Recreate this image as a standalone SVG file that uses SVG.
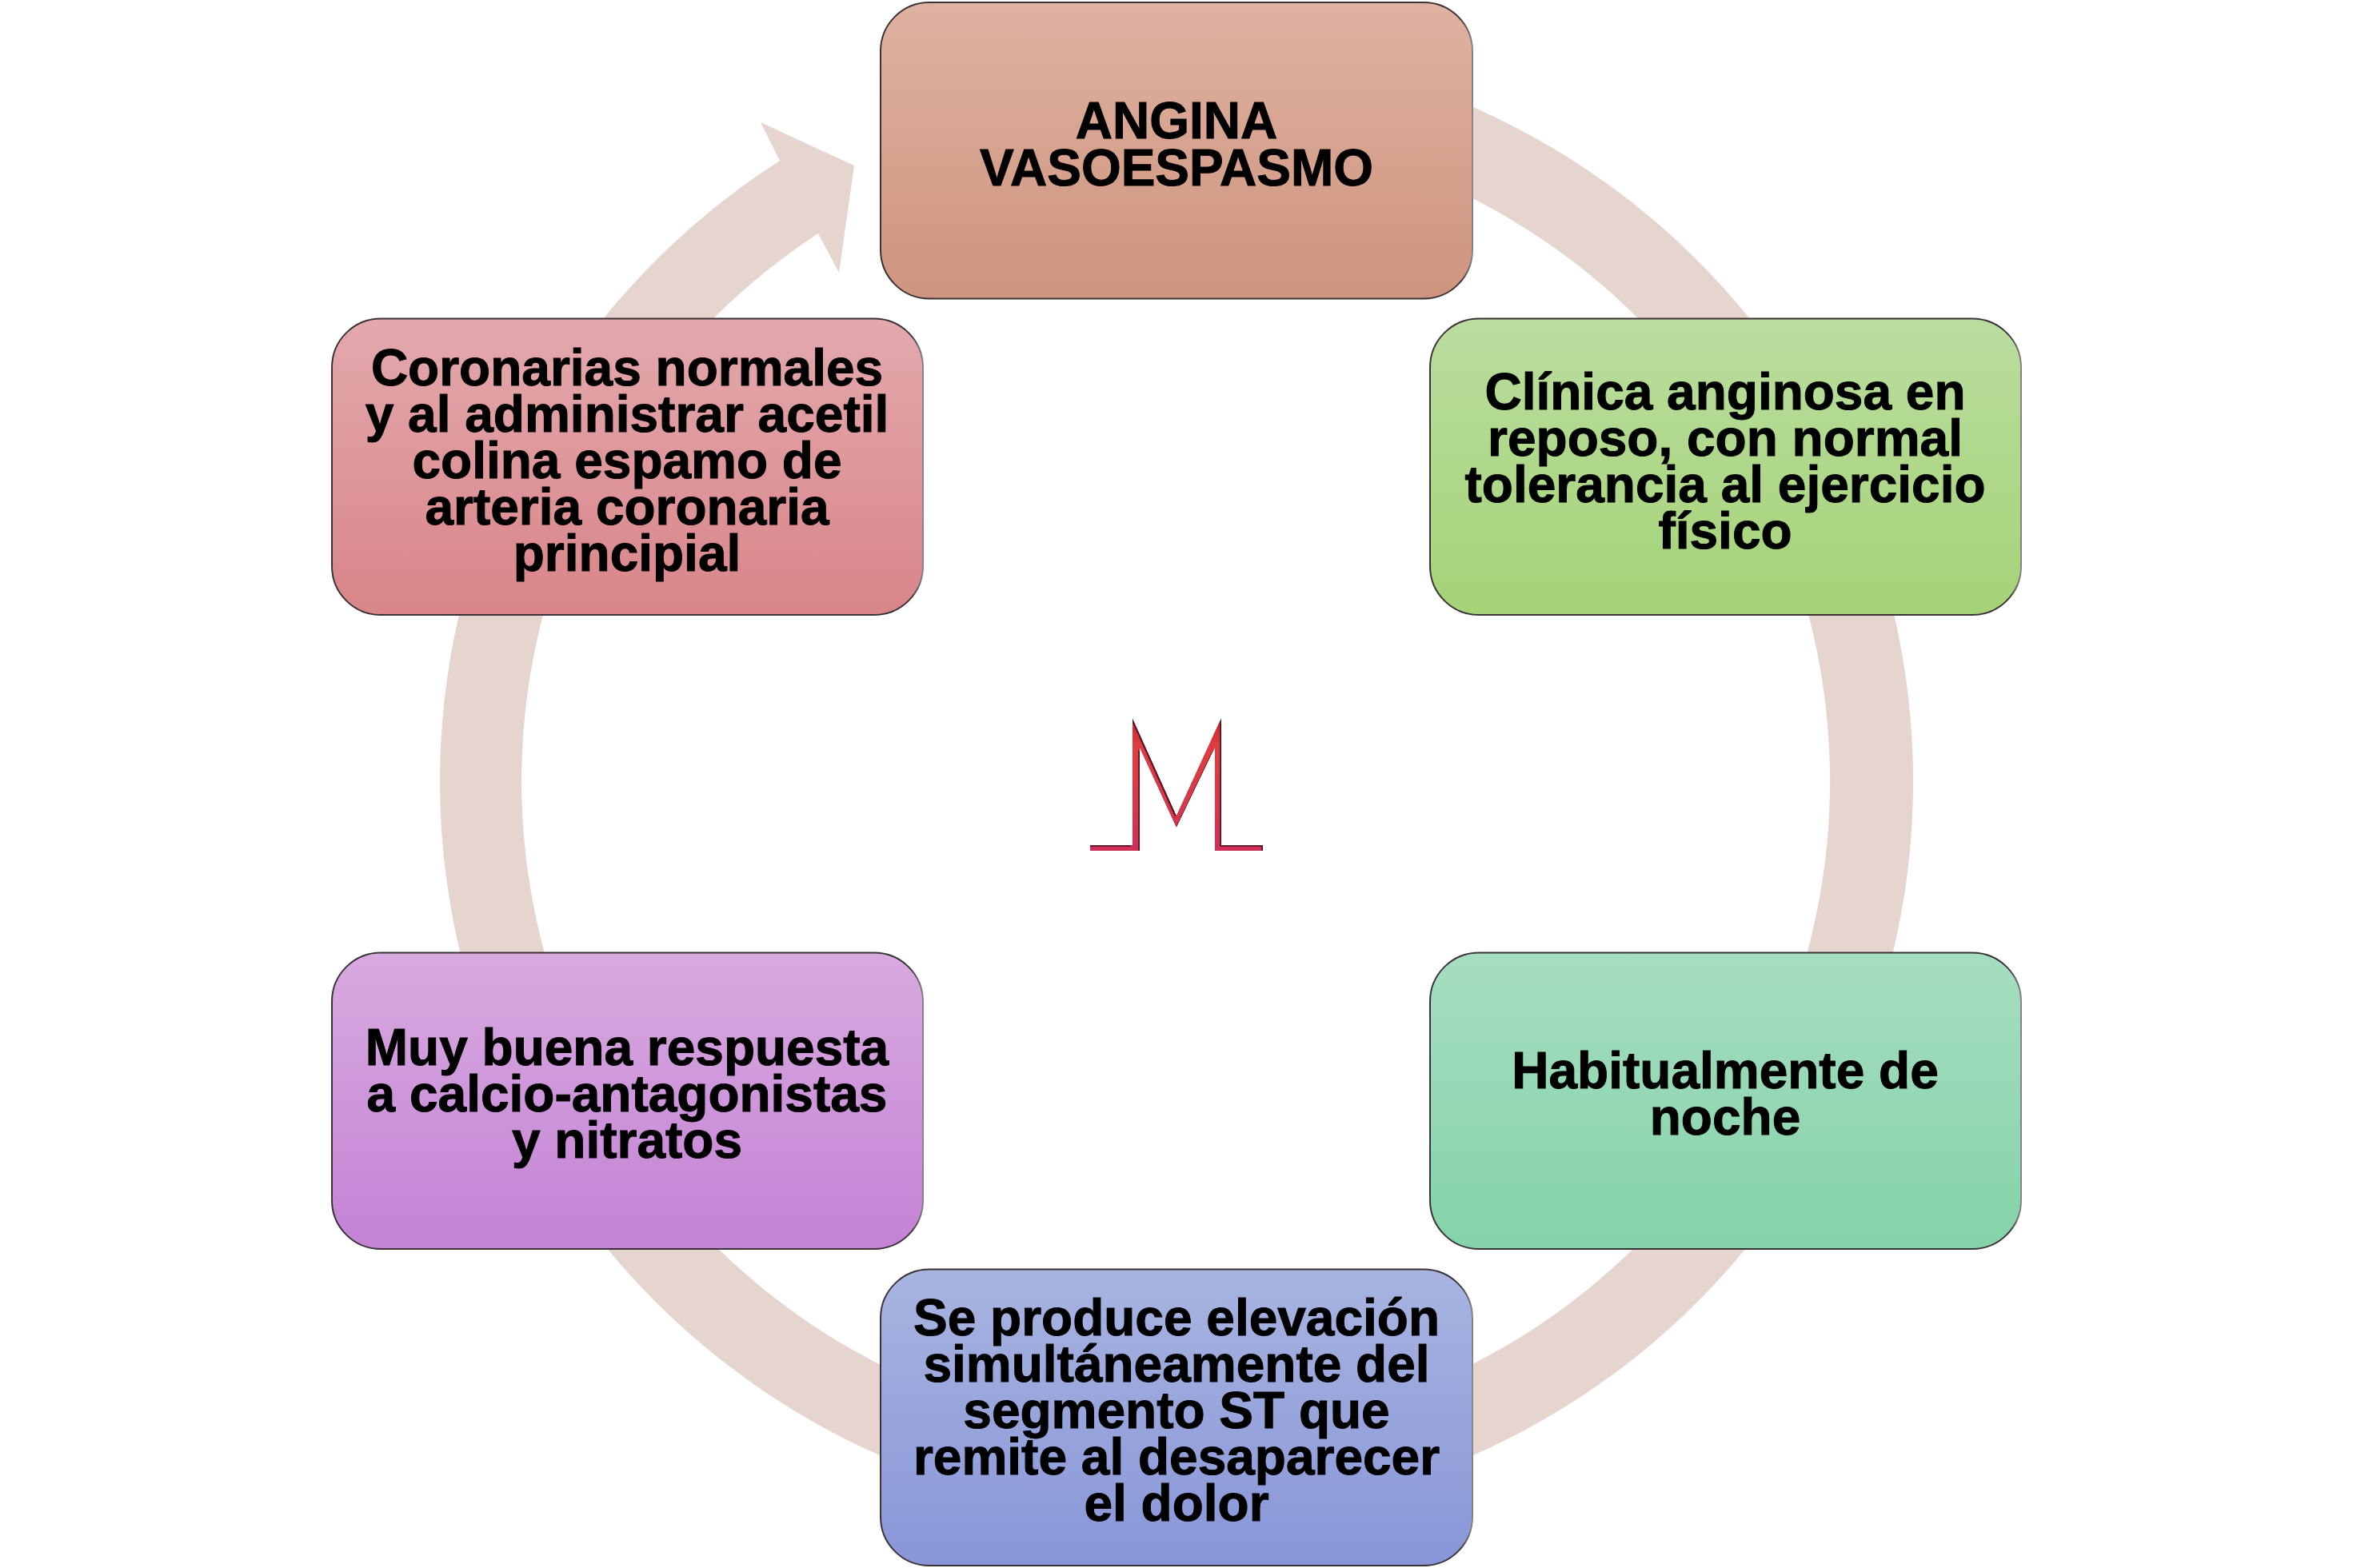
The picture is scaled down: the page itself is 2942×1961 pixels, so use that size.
<svg xmlns="http://www.w3.org/2000/svg" width="2942" height="1961" viewBox="0 0 2942 1961">
<style>
.box{stroke:url(#edge);stroke-width:2}
.t{font-family:"Liberation Sans",Arial,sans-serif;font-weight:700;font-size:64px;fill:#000;stroke:#000;stroke-width:1;text-anchor:middle}
</style>
<defs>
<linearGradient id="edge" x1="0" y1="0" x2="1" y2="0"><stop offset="0" stop-color="#3a3236"/><stop offset=".98" stop-color="#3a3236"/><stop offset="1" stop-color="#8a8486"/></linearGradient>
<linearGradient id="g1" x1="0" y1="0" x2="0" y2="1"><stop offset="0" stop-color="#dfb2a1"/><stop offset="1" stop-color="#ce947e"/></linearGradient>
<linearGradient id="g2" x1="0" y1="0" x2="0" y2="1"><stop offset="0" stop-color="#badd9f"/><stop offset="1" stop-color="#a5d377"/></linearGradient>
<linearGradient id="g3" x1="0" y1="0" x2="0" y2="1"><stop offset="0" stop-color="#a6ddc1"/><stop offset="1" stop-color="#84d3a8"/></linearGradient>
<linearGradient id="g4" x1="0" y1="0" x2="0" y2="1"><stop offset="0" stop-color="#a8b4e0"/><stop offset="1" stop-color="#8896d8"/></linearGradient>
<linearGradient id="g5" x1="0" y1="0" x2="0" y2="1"><stop offset="0" stop-color="#d8aadf"/><stop offset="1" stop-color="#c482d6"/></linearGradient>
<linearGradient id="g6" x1="0" y1="0" x2="0" y2="1"><stop offset="0" stop-color="#e3a9ad"/><stop offset="1" stop-color="#d98589"/></linearGradient>
<linearGradient id="gm" gradientUnits="userSpaceOnUse" x1="0" y1="898" x2="0" y2="1064"><stop offset="0" stop-color="#c6282c"/><stop offset=".2" stop-color="#dd3d3f"/><stop offset=".6" stop-color="#d63a48"/><stop offset="1" stop-color="#cf2d58"/></linearGradient>
<path id="mshape" d="M1363 1057H1416V898L1471 1020L1527 898V1057H1579V1064H1519V935L1471 1035L1425 935V1064H1363Z"/>
<clipPath id="mclip"><use href="#mshape"/></clipPath>
<filter id="soft" x="-5%" y="-5%" width="110%" height="110%"><feGaussianBlur stdDeviation=".7"/></filter>
</defs>
<rect width="2942" height="1961" fill="#fff"/>
<g id="connectors">
<path fill="#e6d5cf" d="M975 201L951 153L1068 207L1049 341L1023 292A818 818 0 1 0 1471 159V56A921 921 0 1 1 975 201Z"/>
</g>
<g id="logo">
<g clip-path="url(#mclip)"><use href="#mshape" fill="#5a1426"/><use href="#mshape" fill="url(#gm)" transform="translate(-1.8 1.8)" filter="url(#soft)"/></g>
</g>
<g id="node-1"><rect class="box" x="1101" y="3" width="740" height="370.5" rx="61" fill="url(#g1)"/>
<text class="t" x="1471" y="173">ANGINA</text><text class="t" x="1471" y="232">VASOESPASMO</text></g>
<g id="node-2"><rect class="box" x="1788" y="398.5" width="739" height="370.5" rx="61" fill="url(#g2)"/>
<text class="t" x="2157" y="512">Clínica anginosa en</text><text class="t" x="2157" y="570">reposo, con normal</text><text class="t" x="2157" y="628">tolerancia al ejercicio</text><text class="t" x="2157" y="686">físico</text></g>
<g id="node-3"><rect class="box" x="1788" y="1191.5" width="739" height="370.5" rx="61" fill="url(#g3)"/>
<text class="t" x="2157" y="1361">Habitualmente de</text><text class="t" x="2157" y="1419">noche</text></g>
<g id="node-4"><rect class="box" x="1101" y="1587.5" width="740" height="370.5" rx="61" fill="url(#g4)"/>
<text class="t" x="1471" y="1670">Se produce elevación</text><text class="t" x="1471" y="1728">simultáneamente del</text><text class="t" x="1471" y="1786">segmento ST que</text><text class="t" x="1471" y="1844">remite al desaparecer</text><text class="t" x="1471" y="1902">el dolor</text></g>
<g id="node-5"><rect class="box" x="415" y="1191.5" width="739" height="370.5" rx="61" fill="url(#g5)"/>
<text class="t" x="784" y="1332">Muy buena respuesta</text><text class="t" x="784" y="1390">a calcio-antagonistas</text><text class="t" x="784" y="1448">y nitratos</text></g>
<g id="node-6"><rect class="box" x="415" y="398.5" width="739" height="370.5" rx="61" fill="url(#g6)"/>
<text class="t" x="784" y="482">Coronarias normales</text><text class="t" x="784" y="540">y al administrar acetil</text><text class="t" x="784" y="598">colina espamo de</text><text class="t" x="784" y="656">arteria coronaria</text><text class="t" x="784" y="714">principial</text></g>
</svg>
